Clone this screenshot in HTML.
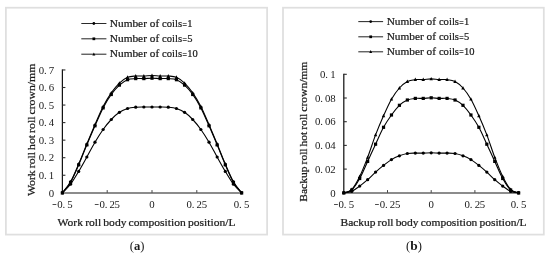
<!DOCTYPE html><html><head><meta charset="utf-8"><title>Figure</title><style>html,body{margin:0;padding:0;background:#fff}svg{display:block}text{font-family:"Liberation Serif","DejaVu Serif",serif;fill:#1a1a1a}.p{stroke:#1a1a1a;stroke-width:.22px}</style></head><body>
<svg width="550" height="257" viewBox="0 0 550 257">
<rect width="550" height="257" fill="#fff"/>
<rect x="5.9" y="7.7" width="261.20000000000005" height="226.9" fill="#fff" stroke="#dfdfdf" stroke-width="1.75"/>
<g fill="none">
<path d="M62.4 69.4V193.5" stroke="#151515" stroke-width="1.25"/>
<path d="M61.8 193.0H241.6" stroke="#666" stroke-width="1.4"/>
<path d="M62.4 175.25h3" stroke="#2e2e2e" stroke-width="1.1"/>
<path d="M62.4 157.70h3" stroke="#2e2e2e" stroke-width="1.1"/>
<path d="M62.4 140.15h3" stroke="#2e2e2e" stroke-width="1.1"/>
<path d="M62.4 122.60h3" stroke="#2e2e2e" stroke-width="1.1"/>
<path d="M62.4 105.05h3" stroke="#2e2e2e" stroke-width="1.1"/>
<path d="M62.4 87.50h3" stroke="#2e2e2e" stroke-width="1.1"/>
<path d="M62.4 69.95h3" stroke="#2e2e2e" stroke-width="1.1"/>
<path d="M107.20 192.8v-2.7" stroke="#444" stroke-width="1"/>
<path d="M152.00 192.8v-2.7" stroke="#444" stroke-width="1"/>
<path d="M196.80 192.8v-2.7" stroke="#444" stroke-width="1"/>
</g>
<text font-size="10.8" fill="#2e2e2e"><tspan x="48.75" y="196.50">0</tspan></text>
<text font-size="10.8" fill="#2e2e2e"><tspan x="38.65 43.90 48.75" y="178.95">0.1</tspan></text>
<text font-size="10.8" fill="#2e2e2e"><tspan x="38.65 43.90 48.75" y="161.40">0.2</tspan></text>
<text font-size="10.8" fill="#2e2e2e"><tspan x="38.65 43.90 48.75" y="143.85">0.3</tspan></text>
<text font-size="10.8" fill="#2e2e2e"><tspan x="38.65 43.90 48.75" y="126.30">0.4</tspan></text>
<text font-size="10.8" fill="#2e2e2e"><tspan x="38.65 43.90 48.75" y="108.75">0.5</tspan></text>
<text font-size="10.8" fill="#2e2e2e"><tspan x="38.65 43.90 48.75" y="91.20">0.6</tspan></text>
<text font-size="10.8" fill="#2e2e2e"><tspan x="38.65 43.90 48.75" y="73.65">0.7</tspan></text>
<text font-size="10.8" fill="#2e2e2e"><tspan x="52.02" y="207.40" textLength="4.9" lengthAdjust="spacingAndGlyphs">-</tspan><tspan x="57.15 62.40 67.25" y="208.40">0.5</tspan></text>
<text font-size="10.8" fill="#2e2e2e"><tspan x="94.29" y="207.40" textLength="4.9" lengthAdjust="spacingAndGlyphs">-</tspan><tspan x="99.42 104.67 109.52 114.57" y="208.40">0.25</tspan></text>
<text font-size="10.8" fill="#2e2e2e"><tspan x="149.28" y="208.40">0</tspan></text>
<text font-size="10.8" fill="#2e2e2e"><tspan x="186.50 191.75 196.60 201.65" y="208.40">0.25</tspan></text>
<text font-size="10.8" fill="#2e2e2e"><tspan x="233.83 239.08 243.93" y="208.40">0.5</tspan></text>
<path d="M62.40 192.80C63.76 191.37 67.83 187.77 70.55 184.20C73.26 180.63 75.98 175.93 78.69 171.40C81.41 166.87 84.12 161.87 86.84 157.00C89.55 152.13 92.27 146.78 94.98 142.20C97.70 137.62 100.41 133.28 103.13 129.50C105.84 125.72 108.56 122.37 111.27 119.50C113.99 116.63 116.70 114.13 119.42 112.30C122.13 110.47 124.85 109.35 127.56 108.50C130.28 107.65 132.99 107.45 135.71 107.20C138.42 106.95 141.14 107.03 143.85 107.00C146.57 106.97 149.28 107.00 152.00 107.00C154.72 107.00 157.43 106.97 160.15 107.00C162.86 107.03 165.58 106.95 168.29 107.20C171.01 107.45 173.72 107.65 176.44 108.50C179.15 109.35 181.87 110.47 184.58 112.30C187.30 114.13 190.01 116.63 192.73 119.50C195.44 122.37 198.16 125.72 200.87 129.50C203.59 133.28 206.30 137.62 209.02 142.20C211.73 146.78 214.45 152.13 217.16 157.00C219.88 161.87 222.59 166.87 225.31 171.40C228.02 175.93 230.74 180.63 233.45 184.20C236.17 187.77 240.24 191.37 241.60 192.80" fill="none" stroke="#000" stroke-width="1.1"/>
<g fill="#000"><circle cx="62.40" cy="192.80" r="1.62"/><circle cx="70.55" cy="184.20" r="1.62"/><circle cx="78.69" cy="171.40" r="1.62"/><circle cx="86.84" cy="157.00" r="1.62"/><circle cx="94.98" cy="142.20" r="1.62"/><circle cx="103.13" cy="129.50" r="1.62"/><circle cx="111.27" cy="119.50" r="1.62"/><circle cx="119.42" cy="112.30" r="1.62"/><circle cx="127.56" cy="108.50" r="1.62"/><circle cx="135.71" cy="107.20" r="1.62"/><circle cx="143.85" cy="107.00" r="1.62"/><circle cx="152.00" cy="107.00" r="1.62"/><circle cx="160.15" cy="107.00" r="1.62"/><circle cx="168.29" cy="107.20" r="1.62"/><circle cx="176.44" cy="108.50" r="1.62"/><circle cx="184.58" cy="112.30" r="1.62"/><circle cx="192.73" cy="119.50" r="1.62"/><circle cx="200.87" cy="129.50" r="1.62"/><circle cx="209.02" cy="142.20" r="1.62"/><circle cx="217.16" cy="157.00" r="1.62"/><circle cx="225.31" cy="171.40" r="1.62"/><circle cx="233.45" cy="184.20" r="1.62"/><circle cx="241.60" cy="192.80" r="1.62"/></g>
<path d="M62.40 192.80C63.76 191.05 67.83 186.97 70.55 182.30C73.26 177.63 75.98 171.03 78.69 164.80C81.41 158.57 84.12 151.40 86.84 144.90C89.55 138.40 92.27 131.97 94.98 125.80C97.70 119.63 100.41 113.12 103.13 107.90C105.84 102.68 108.56 98.30 111.27 94.50C113.99 90.70 116.70 87.57 119.42 85.10C122.13 82.63 124.85 80.78 127.56 79.70C130.28 78.62 132.99 78.78 135.71 78.60C138.42 78.42 141.14 78.67 143.85 78.60C146.57 78.53 149.28 78.20 152.00 78.20C154.72 78.20 157.43 78.53 160.15 78.60C162.86 78.67 165.58 78.42 168.29 78.60C171.01 78.78 173.72 78.62 176.44 79.70C179.15 80.78 181.87 82.63 184.58 85.10C187.30 87.57 190.01 90.70 192.73 94.50C195.44 98.30 198.16 102.68 200.87 107.90C203.59 113.12 206.30 119.63 209.02 125.80C211.73 131.97 214.45 138.40 217.16 144.90C219.88 151.40 222.59 158.57 225.31 164.80C228.02 171.03 230.74 177.63 233.45 182.30C236.17 186.97 240.24 191.05 241.60 192.80" fill="none" stroke="#000" stroke-width="1.1"/>
<g fill="#000"><rect x="60.80" y="191.20" width="3.20" height="3.20"/><rect x="68.95" y="180.70" width="3.20" height="3.20"/><rect x="77.09" y="163.20" width="3.20" height="3.20"/><rect x="85.24" y="143.30" width="3.20" height="3.20"/><rect x="93.38" y="124.20" width="3.20" height="3.20"/><rect x="101.53" y="106.30" width="3.20" height="3.20"/><rect x="109.67" y="92.90" width="3.20" height="3.20"/><rect x="117.82" y="83.50" width="3.20" height="3.20"/><rect x="125.96" y="78.10" width="3.20" height="3.20"/><rect x="134.11" y="77.00" width="3.20" height="3.20"/><rect x="142.25" y="77.00" width="3.20" height="3.20"/><rect x="150.40" y="76.60" width="3.20" height="3.20"/><rect x="158.55" y="77.00" width="3.20" height="3.20"/><rect x="166.69" y="77.00" width="3.20" height="3.20"/><rect x="174.84" y="78.10" width="3.20" height="3.20"/><rect x="182.98" y="83.50" width="3.20" height="3.20"/><rect x="191.13" y="92.90" width="3.20" height="3.20"/><rect x="199.27" y="106.30" width="3.20" height="3.20"/><rect x="207.42" y="124.20" width="3.20" height="3.20"/><rect x="215.56" y="143.30" width="3.20" height="3.20"/><rect x="223.71" y="163.20" width="3.20" height="3.20"/><rect x="231.85" y="180.70" width="3.20" height="3.20"/><rect x="240.00" y="191.20" width="3.20" height="3.20"/></g>
<path d="M62.40 192.80C63.76 190.97 67.83 186.60 70.55 181.80C73.26 177.00 75.98 170.30 78.69 164.00C81.41 157.70 84.12 150.55 86.84 144.00C89.55 137.45 92.27 130.93 94.98 124.70C97.70 118.47 100.41 111.90 103.13 106.60C105.84 101.30 108.56 96.80 111.27 92.90C113.99 89.00 116.70 85.80 119.42 83.20C122.13 80.60 124.85 78.50 127.56 77.30C130.28 76.10 132.99 76.22 135.71 76.00C138.42 75.78 141.14 76.08 143.85 76.00C146.57 75.92 149.28 75.50 152.00 75.50C154.72 75.50 157.43 75.92 160.15 76.00C162.86 76.08 165.58 75.78 168.29 76.00C171.01 76.22 173.72 76.10 176.44 77.30C179.15 78.50 181.87 80.60 184.58 83.20C187.30 85.80 190.01 89.00 192.73 92.90C195.44 96.80 198.16 101.30 200.87 106.60C203.59 111.90 206.30 118.47 209.02 124.70C211.73 130.93 214.45 137.45 217.16 144.00C219.88 150.55 222.59 157.70 225.31 164.00C228.02 170.30 230.74 177.00 233.45 181.80C236.17 186.60 240.24 190.97 241.60 192.80" fill="none" stroke="#000" stroke-width="1.1"/>
<g fill="#000"><path d="M62.40 190.80L64.10 194.20L60.70 194.20Z"/><path d="M70.55 179.80L72.25 183.20L68.85 183.20Z"/><path d="M78.69 162.00L80.39 165.40L76.99 165.40Z"/><path d="M86.84 142.00L88.54 145.40L85.14 145.40Z"/><path d="M94.98 122.70L96.68 126.10L93.28 126.10Z"/><path d="M103.13 104.60L104.83 108.00L101.43 108.00Z"/><path d="M111.27 90.90L112.97 94.30L109.57 94.30Z"/><path d="M119.42 81.20L121.12 84.60L117.72 84.60Z"/><path d="M127.56 75.30L129.26 78.70L125.86 78.70Z"/><path d="M135.71 74.00L137.41 77.40L134.01 77.40Z"/><path d="M143.85 74.00L145.55 77.40L142.15 77.40Z"/><path d="M152.00 73.50L153.70 76.90L150.30 76.90Z"/><path d="M160.15 74.00L161.85 77.40L158.45 77.40Z"/><path d="M168.29 74.00L169.99 77.40L166.59 77.40Z"/><path d="M176.44 75.30L178.14 78.70L174.74 78.70Z"/><path d="M184.58 81.20L186.28 84.60L182.88 84.60Z"/><path d="M192.73 90.90L194.43 94.30L191.03 94.30Z"/><path d="M200.87 104.60L202.57 108.00L199.17 108.00Z"/><path d="M209.02 122.70L210.72 126.10L207.32 126.10Z"/><path d="M217.16 142.00L218.86 145.40L215.46 145.40Z"/><path d="M225.31 162.00L227.01 165.40L223.61 165.40Z"/><path d="M233.45 179.80L235.15 183.20L231.75 183.20Z"/><path d="M241.60 190.80L243.30 194.20L239.90 194.20Z"/></g>
<path d="M81.3 23.5H106.4" stroke="#2a2a2a" stroke-width="1.05"/>
<g fill="#000"><circle cx="93.85" cy="23.50" r="1.38"/></g>
<text class="p" y="27" font-size="10.5"><tspan x="109.8" textLength="52.2" lengthAdjust="spacingAndGlyphs">Number of </tspan><tspan x="162.00" textLength="20.1" lengthAdjust="spacingAndGlyphs">coils</tspan><tspan x="182.40" dy="0.8" textLength="4.4" lengthAdjust="spacingAndGlyphs">=</tspan><tspan x="187.20" dy="-0.8">1</tspan></text>
<path d="M81.3 38.8H106.4" stroke="#2a2a2a" stroke-width="1.05"/>
<g fill="#000"><rect x="92.49" y="37.44" width="2.72" height="2.72"/></g>
<text class="p" y="42.2" font-size="10.5"><tspan x="109.8" textLength="52.2" lengthAdjust="spacingAndGlyphs">Number of </tspan><tspan x="162.00" textLength="20.1" lengthAdjust="spacingAndGlyphs">coils</tspan><tspan x="182.40" dy="0.8" textLength="4.4" lengthAdjust="spacingAndGlyphs">=</tspan><tspan x="187.20" dy="-0.8">5</tspan></text>
<path d="M81.3 54.2H106.4" stroke="#2a2a2a" stroke-width="1.05"/>
<g fill="#000"><path d="M93.85 52.50L95.29 55.39L92.41 55.39Z"/></g>
<text class="p" y="57.3" font-size="10.5"><tspan x="109.8" textLength="52.2" lengthAdjust="spacingAndGlyphs">Number of </tspan><tspan x="162.00" textLength="20.1" lengthAdjust="spacingAndGlyphs">coils</tspan><tspan x="182.40" dy="0.8" textLength="4.4" lengthAdjust="spacingAndGlyphs">=</tspan><tspan x="187.20" dy="-0.8">10</tspan></text>
<text class="p" transform="translate(35.3 129.9) rotate(-90)" text-anchor="middle" font-size="10.5" word-spacing="-0.8" textLength="132.3" lengthAdjust="spacingAndGlyphs">Work roll hot roll crown/mm</text>
<text class="p" x="57.6" y="226" font-size="10.5" word-spacing="-0.7" textLength="177.9" lengthAdjust="spacingAndGlyphs">Work roll body composition position/L</text>
<text x="137.1" y="249.6" text-anchor="middle" font-size="12.6">(<tspan font-weight="bold" font-size="12.6">a</tspan>)</text>
<rect x="283.0" y="7.7" width="260.79999999999995" height="226.9" fill="#fff" stroke="#dfdfdf" stroke-width="1.75"/>
<g fill="none">
<path d="M343.8 73.8V193.5" stroke="#151515" stroke-width="1.25"/>
<path d="M343.2 193.0H518.6" stroke="#666" stroke-width="1.4"/>
<path d="M343.8 169.10h3" stroke="#2e2e2e" stroke-width="1.1"/>
<path d="M343.8 145.40h3" stroke="#2e2e2e" stroke-width="1.1"/>
<path d="M343.8 121.70h3" stroke="#2e2e2e" stroke-width="1.1"/>
<path d="M343.8 98.00h3" stroke="#2e2e2e" stroke-width="1.1"/>
<path d="M343.8 74.30h3" stroke="#2e2e2e" stroke-width="1.1"/>
<path d="M387.50 192.8v-2.7" stroke="#444" stroke-width="1"/>
<path d="M431.20 192.8v-2.7" stroke="#444" stroke-width="1"/>
<path d="M474.90 192.8v-2.7" stroke="#444" stroke-width="1"/>
</g>
<text font-size="10.8" fill="#2e2e2e"><tspan x="330.15" y="196.50">0</tspan></text>
<text font-size="10.8" fill="#2e2e2e"><tspan x="315.00 320.25 325.10 330.15" y="172.80">0.02</tspan></text>
<text font-size="10.8" fill="#2e2e2e"><tspan x="315.00 320.25 325.10 330.15" y="149.10">0.04</tspan></text>
<text font-size="10.8" fill="#2e2e2e"><tspan x="315.00 320.25 325.10 330.15" y="125.40">0.06</tspan></text>
<text font-size="10.8" fill="#2e2e2e"><tspan x="315.00 320.25 325.10 330.15" y="101.70">0.08</tspan></text>
<text font-size="10.8" fill="#2e2e2e"><tspan x="320.05 325.30 330.15" y="78.00">0.1</tspan></text>
<text font-size="10.8" fill="#2e2e2e"><tspan x="333.42" y="207.40" textLength="4.9" lengthAdjust="spacingAndGlyphs">-</tspan><tspan x="338.55 343.80 348.65" y="208.40">0.5</tspan></text>
<text font-size="10.8" fill="#2e2e2e"><tspan x="374.60" y="207.40" textLength="4.9" lengthAdjust="spacingAndGlyphs">-</tspan><tspan x="379.73 384.98 389.82 394.88" y="208.40">0.25</tspan></text>
<text font-size="10.8" fill="#2e2e2e"><tspan x="428.48" y="208.40">0</tspan></text>
<text font-size="10.8" fill="#2e2e2e"><tspan x="464.60 469.85 474.70 479.75" y="208.40">0.25</tspan></text>
<text font-size="10.8" fill="#2e2e2e"><tspan x="510.83 516.08 520.92" y="208.40">0.5</tspan></text>
<path d="M343.80 192.80C345.12 192.57 349.10 192.52 351.75 191.40C354.39 190.28 357.04 188.05 359.69 186.10C362.34 184.15 364.99 182.03 367.64 179.70C370.28 177.37 372.93 174.48 375.58 172.10C378.23 169.72 380.88 167.48 383.53 165.40C386.18 163.32 388.82 161.20 391.47 159.60C394.12 158.00 396.77 156.82 399.42 155.80C402.07 154.78 404.72 153.95 407.36 153.50C410.01 153.05 412.66 153.17 415.31 153.10C417.96 153.03 420.61 153.15 423.25 153.10C425.90 153.05 428.55 152.80 431.20 152.80C433.85 152.80 436.50 153.05 439.15 153.10C441.79 153.15 444.44 153.03 447.09 153.10C449.74 153.17 452.39 153.05 455.04 153.50C457.68 153.95 460.33 154.78 462.98 155.80C465.63 156.82 468.28 158.00 470.93 159.60C473.58 161.20 476.22 163.32 478.87 165.40C481.52 167.48 484.17 169.72 486.82 172.10C489.47 174.48 492.12 177.37 494.76 179.70C497.41 182.03 500.06 184.15 502.71 186.10C505.36 188.05 508.01 190.28 510.65 191.40C513.30 192.52 517.28 192.57 518.60 192.80" fill="none" stroke="#000" stroke-width="1.1"/>
<g fill="#000"><circle cx="343.80" cy="192.80" r="1.62"/><circle cx="351.75" cy="191.40" r="1.62"/><circle cx="359.69" cy="186.10" r="1.62"/><circle cx="367.64" cy="179.70" r="1.62"/><circle cx="375.58" cy="172.10" r="1.62"/><circle cx="383.53" cy="165.40" r="1.62"/><circle cx="391.47" cy="159.60" r="1.62"/><circle cx="399.42" cy="155.80" r="1.62"/><circle cx="407.36" cy="153.50" r="1.62"/><circle cx="415.31" cy="153.10" r="1.62"/><circle cx="423.25" cy="153.10" r="1.62"/><circle cx="431.20" cy="152.80" r="1.62"/><circle cx="439.15" cy="153.10" r="1.62"/><circle cx="447.09" cy="153.10" r="1.62"/><circle cx="455.04" cy="153.50" r="1.62"/><circle cx="462.98" cy="155.80" r="1.62"/><circle cx="470.93" cy="159.60" r="1.62"/><circle cx="478.87" cy="165.40" r="1.62"/><circle cx="486.82" cy="172.10" r="1.62"/><circle cx="494.76" cy="179.70" r="1.62"/><circle cx="502.71" cy="186.10" r="1.62"/><circle cx="510.65" cy="191.40" r="1.62"/><circle cx="518.60" cy="192.80" r="1.62"/></g>
<path d="M343.80 192.80C345.12 192.33 349.10 192.38 351.75 190.00C354.39 187.62 357.04 183.27 359.69 178.50C362.34 173.73 364.99 167.12 367.64 161.40C370.28 155.68 372.93 149.88 375.58 144.20C378.23 138.52 380.88 132.17 383.53 127.30C386.18 122.43 388.82 118.67 391.47 115.00C394.12 111.33 396.77 107.80 399.42 105.30C402.07 102.80 404.72 101.15 407.36 100.00C410.01 98.85 412.66 98.67 415.31 98.40C417.96 98.13 420.61 98.50 423.25 98.40C425.90 98.30 428.55 97.80 431.20 97.80C433.85 97.80 436.50 98.30 439.15 98.40C441.79 98.50 444.44 98.13 447.09 98.40C449.74 98.67 452.39 98.85 455.04 100.00C457.68 101.15 460.33 102.80 462.98 105.30C465.63 107.80 468.28 111.33 470.93 115.00C473.58 118.67 476.22 122.43 478.87 127.30C481.52 132.17 484.17 138.52 486.82 144.20C489.47 149.88 492.12 155.68 494.76 161.40C497.41 167.12 500.06 173.73 502.71 178.50C505.36 183.27 508.01 187.62 510.65 190.00C513.30 192.38 517.28 192.33 518.60 192.80" fill="none" stroke="#000" stroke-width="1.1"/>
<g fill="#000"><rect x="342.20" y="191.20" width="3.20" height="3.20"/><rect x="350.15" y="188.40" width="3.20" height="3.20"/><rect x="358.09" y="176.90" width="3.20" height="3.20"/><rect x="366.04" y="159.80" width="3.20" height="3.20"/><rect x="373.98" y="142.60" width="3.20" height="3.20"/><rect x="381.93" y="125.70" width="3.20" height="3.20"/><rect x="389.87" y="113.40" width="3.20" height="3.20"/><rect x="397.82" y="103.70" width="3.20" height="3.20"/><rect x="405.76" y="98.40" width="3.20" height="3.20"/><rect x="413.71" y="96.80" width="3.20" height="3.20"/><rect x="421.65" y="96.80" width="3.20" height="3.20"/><rect x="429.60" y="96.20" width="3.20" height="3.20"/><rect x="437.55" y="96.80" width="3.20" height="3.20"/><rect x="445.49" y="96.80" width="3.20" height="3.20"/><rect x="453.44" y="98.40" width="3.20" height="3.20"/><rect x="461.38" y="103.70" width="3.20" height="3.20"/><rect x="469.33" y="113.40" width="3.20" height="3.20"/><rect x="477.27" y="125.70" width="3.20" height="3.20"/><rect x="485.22" y="142.60" width="3.20" height="3.20"/><rect x="493.16" y="159.80" width="3.20" height="3.20"/><rect x="501.11" y="176.90" width="3.20" height="3.20"/><rect x="509.05" y="188.40" width="3.20" height="3.20"/><rect x="517.00" y="191.20" width="3.20" height="3.20"/></g>
<path d="M343.80 192.80C345.12 192.25 349.10 192.22 351.75 189.50C354.39 186.78 357.04 181.85 359.69 176.50C362.34 171.15 364.99 164.33 367.64 157.40C370.28 150.47 372.93 141.83 375.58 134.90C378.23 127.97 380.88 121.75 383.53 115.80C386.18 109.85 388.82 103.83 391.47 99.20C394.12 94.57 396.77 90.95 399.42 88.00C402.07 85.05 404.72 82.90 407.36 81.50C410.01 80.10 412.66 79.92 415.31 79.60C417.96 79.28 420.61 79.72 423.25 79.60C425.90 79.48 428.55 78.90 431.20 78.90C433.85 78.90 436.50 79.48 439.15 79.60C441.79 79.72 444.44 79.28 447.09 79.60C449.74 79.92 452.39 80.10 455.04 81.50C457.68 82.90 460.33 85.05 462.98 88.00C465.63 90.95 468.28 94.57 470.93 99.20C473.58 103.83 476.22 109.85 478.87 115.80C481.52 121.75 484.17 127.97 486.82 134.90C489.47 141.83 492.12 150.47 494.76 157.40C497.41 164.33 500.06 171.15 502.71 176.50C505.36 181.85 508.01 186.78 510.65 189.50C513.30 192.22 517.28 192.25 518.60 192.80" fill="none" stroke="#000" stroke-width="1.1"/>
<g fill="#000"><path d="M343.80 190.80L345.50 194.20L342.10 194.20Z"/><path d="M351.75 187.50L353.45 190.90L350.05 190.90Z"/><path d="M359.69 174.50L361.39 177.90L357.99 177.90Z"/><path d="M367.64 155.40L369.34 158.80L365.94 158.80Z"/><path d="M375.58 132.90L377.28 136.30L373.88 136.30Z"/><path d="M383.53 113.80L385.23 117.20L381.83 117.20Z"/><path d="M391.47 97.20L393.17 100.60L389.77 100.60Z"/><path d="M399.42 86.00L401.12 89.40L397.72 89.40Z"/><path d="M407.36 79.50L409.06 82.90L405.66 82.90Z"/><path d="M415.31 77.60L417.01 81.00L413.61 81.00Z"/><path d="M423.25 77.60L424.95 81.00L421.55 81.00Z"/><path d="M431.20 76.90L432.90 80.30L429.50 80.30Z"/><path d="M439.15 77.60L440.85 81.00L437.45 81.00Z"/><path d="M447.09 77.60L448.79 81.00L445.39 81.00Z"/><path d="M455.04 79.50L456.74 82.90L453.34 82.90Z"/><path d="M462.98 86.00L464.68 89.40L461.28 89.40Z"/><path d="M470.93 97.20L472.63 100.60L469.23 100.60Z"/><path d="M478.87 113.80L480.57 117.20L477.17 117.20Z"/><path d="M486.82 132.90L488.52 136.30L485.12 136.30Z"/><path d="M494.76 155.40L496.46 158.80L493.06 158.80Z"/><path d="M502.71 174.50L504.41 177.90L501.01 177.90Z"/><path d="M510.65 187.50L512.35 190.90L508.95 190.90Z"/><path d="M518.60 190.80L520.30 194.20L516.90 194.20Z"/></g>
<path d="M358.3 21.6H383.1" stroke="#2a2a2a" stroke-width="1.05"/>
<g fill="#000"><circle cx="370.70" cy="21.60" r="1.38"/></g>
<text class="p" y="25.1" font-size="10.5"><tspan x="386.7" textLength="52.2" lengthAdjust="spacingAndGlyphs">Number of </tspan><tspan x="438.90" textLength="20.1" lengthAdjust="spacingAndGlyphs">coils</tspan><tspan x="459.30" dy="0.8" textLength="4.4" lengthAdjust="spacingAndGlyphs">=</tspan><tspan x="464.10" dy="-0.8">1</tspan></text>
<path d="M358.3 36.8H383.1" stroke="#2a2a2a" stroke-width="1.05"/>
<g fill="#000"><rect x="369.34" y="35.44" width="2.72" height="2.72"/></g>
<text class="p" y="39.8" font-size="10.5"><tspan x="386.7" textLength="52.2" lengthAdjust="spacingAndGlyphs">Number of </tspan><tspan x="438.90" textLength="20.1" lengthAdjust="spacingAndGlyphs">coils</tspan><tspan x="459.30" dy="0.8" textLength="4.4" lengthAdjust="spacingAndGlyphs">=</tspan><tspan x="464.10" dy="-0.8">5</tspan></text>
<path d="M358.3 51.8H383.1" stroke="#2a2a2a" stroke-width="1.05"/>
<g fill="#000"><path d="M370.70 50.10L372.15 52.99L369.26 52.99Z"/></g>
<text class="p" y="54.6" font-size="10.5"><tspan x="386.7" textLength="52.2" lengthAdjust="spacingAndGlyphs">Number of </tspan><tspan x="438.90" textLength="20.1" lengthAdjust="spacingAndGlyphs">coils</tspan><tspan x="459.30" dy="0.8" textLength="4.4" lengthAdjust="spacingAndGlyphs">=</tspan><tspan x="464.10" dy="-0.8">10</tspan></text>
<text class="p" transform="translate(307.4 131.7) rotate(-90)" text-anchor="middle" font-size="10.5" word-spacing="-0.8" textLength="140" lengthAdjust="spacingAndGlyphs">Backup roll hot roll crown/mm</text>
<text class="p" x="340.5" y="226" font-size="10.5" word-spacing="-0.7" textLength="186.1" lengthAdjust="spacingAndGlyphs">Backup roll body composition position/L</text>
<text x="414.0" y="249.6" text-anchor="middle" font-size="12.6">(<tspan font-weight="bold" font-size="13.4">b</tspan>)</text>
</svg></body></html>
